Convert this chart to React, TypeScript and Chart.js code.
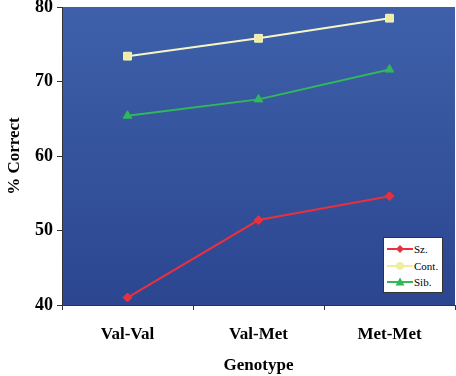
import React, { useEffect, useRef } from "react";
import { Chart, registerables } from "chart.js";

Chart.register(...registerables);

const genotypes = ["Val-Val", "Val-Met", "Met-Met"];
const szValues = [41.0, 51.4, 54.6];
const contValues = [73.4, 75.8, 78.5];
const sibValues = [65.4, 67.6, 71.6];
const yTicks = [40, 50, 60, 70, 80];

const SERIF = "'Liberation Serif', 'Times New Roman', serif";

// Vertical blue gradient behind the plotting area
const plotBackground = {
  id: "plotBackground",
  beforeDraw(chart: any) {
    const { ctx, chartArea } = chart;
    if (!chartArea) return;
    const { left, top, right, bottom } = chartArea;
    const g = ctx.createLinearGradient(0, top, 0, bottom);
    g.addColorStop(0, "#3e60aa");
    g.addColorStop(1, "#2c4690");
    ctx.save();
    ctx.fillStyle = g;
    ctx.fillRect(left, top, right - left, bottom - top);
    ctx.restore();
  },
};

export default function App() {
  const canvasRef = useRef<HTMLCanvasElement | null>(null);

  useEffect(() => {
    if (!canvasRef.current) return;
    const chart = new Chart(canvasRef.current, {
      type: "line",
      data: {
        labels: genotypes,
        datasets: [
          {
            label: "Sz.",
            data: szValues,
            borderColor: "#e8303e",
            backgroundColor: "#e8303e",
            borderWidth: 2,
            pointStyle: "rectRot",
            pointRadius: 4.5,
            pointBorderWidth: 1,
          },
          {
            label: "Cont.",
            data: contValues,
            borderColor: "#f6f6c4",
            backgroundColor: "#eeeea0",
            borderWidth: 2,
            pointStyle: "rect",
            pointRadius: 5.5,
            pointBorderWidth: 1,
          },
          {
            label: "Sib.",
            data: sibValues,
            borderColor: "#30b85a",
            backgroundColor: "#30b85a",
            borderWidth: 2,
            pointStyle: "triangle",
            pointRadius: 5,
            pointBorderWidth: 1,
          },
        ],
      },
      options: {
        animation: false,
        responsive: false,
        maintainAspectRatio: false,
        layout: { autoPadding: false, padding: { top: 7, right: 1, left: 0, bottom: 0 } },
        plugins: {
          legend: { display: false },
          tooltip: { enabled: false },
        },
        scales: {
          x: {
            offset: true,
            grid: {
              display: true,
              drawOnChartArea: false,
              drawTicks: true,
              tickLength: 5,
              color: "#333333",
              offset: true,
            },
            border: { display: true, color: "#333333", width: 1 },
            ticks: {
              color: "#000000",
              padding: 14,
              font: { family: SERIF, size: 17, weight: "bold" },
            },
            title: {
              display: true,
              text: "Genotype",
              color: "#000000",
              padding: { top: 0, bottom: 0 },
              font: { family: SERIF, size: 17, weight: "bold" },
            },
            afterFit(scale: any) {
              scale.height = 71;
              scale.paddingLeft = 0;
              scale.paddingRight = 0;
            },
          },
          y: {
            min: 40,
            max: 80,
            afterBuildTicks(scale: any) {
              scale.ticks = yTicks.map((v) => ({ value: v }));
            },
            grid: {
              display: true,
              drawOnChartArea: false,
              drawTicks: true,
              tickLength: 5,
              color: "#333333",
            },
            border: { display: true, color: "#333333", width: 1 },
            ticks: {
              color: "#000000",
              padding: 4,
              font: { family: SERIF, size: 18, weight: "bold" },
            },
            title: {
              display: true,
              text: "% Correct",
              color: "#000000",
              padding: { top: 4, bottom: 0 },
              font: { family: SERIF, size: 17, weight: "bold" },
            },
            afterFit(scale: any) {
              scale.width = 62;
              scale.paddingTop = 0;
              scale.paddingBottom = 0;
            },
          },
        },
      },
      plugins: [plotBackground],
    });
    return () => chart.destroy();
  }, []);

  const legendItems = [
    { label: "Sz.", color: "#e8303e", marker: "diamond" },
    { label: "Cont.", color: "#eeeea0", marker: "circle" },
    { label: "Sib.", color: "#30b85a", marker: "triangle" },
  ];

  return (
    <div style={{ position: "fixed", left: 0, top: 0, width: 456, height: 376, background: "#ffffff" }}>
      <canvas ref={canvasRef} width={456} height={376} style={{ display: "block" }} />
      <div
        style={{
          position: "absolute",
          left: 383,
          top: 237,
          width: 60,
          height: 56,
          background: "#ffffff",
          border: "1px solid #333",
          fontFamily: SERIF,
          fontSize: 11,
          color: "#000",
          boxSizing: "border-box",
          paddingTop: 3,
        }}
      >
        {legendItems.map((it) => (
          <div key={it.label} style={{ display: "flex", alignItems: "center", height: 16.5 }}>
            <svg width={28} height={12} style={{ marginLeft: 2 }}>
              <line x1={1} y1={6} x2={27} y2={6} stroke={it.color} strokeWidth={2} />
              {it.marker === "diamond" && (
                <polygon points="14,2 18,6 14,10 10,6" fill={it.color} />
              )}
              {it.marker === "circle" && <circle cx={14} cy={6} r={4} fill={it.color} />}
              {it.marker === "triangle" && (
                <polygon points="14,1.5 18.5,9.5 9.5,9.5" fill={it.color} />
              )}
            </svg>
            <span>{it.label}</span>
          </div>
        ))}
      </div>
    </div>
  );
}
